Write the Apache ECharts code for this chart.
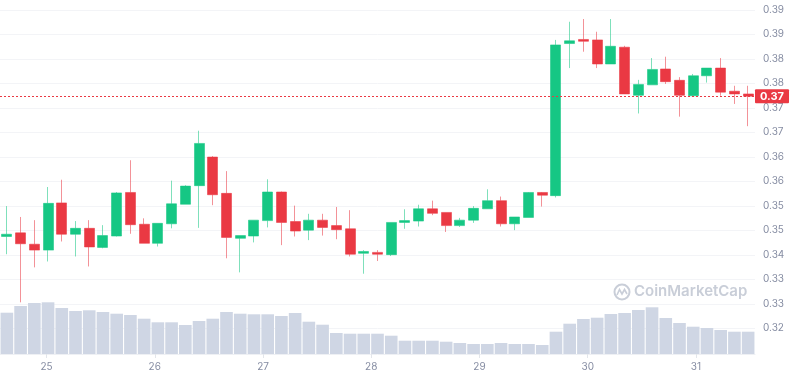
<!DOCTYPE html>
<html>
<head>
<meta charset="utf-8">
<script src="https://cdn.jsdelivr.net/npm/echarts@6/dist/echarts.min.js"></script>
<style>html,body{margin:0;padding:0;background:#fff}#c{width:795px;height:377px}</style>
</head>
<body>
<div id="c"></div>
<script>
// 3-hour candles (category labels)
const times = [
  '10-24 15:00','10-24 18:00','10-24 21:00',
  '10-25 00:00','10-25 03:00','10-25 06:00','10-25 09:00','10-25 12:00','10-25 15:00','10-25 18:00','10-25 21:00',
  '10-26 00:00','10-26 03:00','10-26 06:00','10-26 09:00','10-26 12:00','10-26 15:00','10-26 18:00','10-26 21:00',
  '10-27 00:00','10-27 03:00','10-27 06:00','10-27 09:00','10-27 12:00','10-27 15:00','10-27 18:00','10-27 21:00',
  '10-28 00:00','10-28 03:00','10-28 06:00','10-28 09:00','10-28 12:00','10-28 15:00','10-28 18:00','10-28 21:00',
  '10-29 00:00','10-29 03:00','10-29 06:00','10-29 09:00','10-29 12:00','10-29 15:00','10-29 18:00','10-29 21:00',
  '10-30 00:00','10-30 03:00','10-30 06:00','10-30 09:00','10-30 12:00','10-30 15:00','10-30 18:00','10-30 21:00',
  '10-31 00:00','10-31 03:00','10-31 06:00','10-31 09:00'
];
const opens = [
  0.3438,0.3446,0.3421,0.3408,0.3512,0.3443,0.3456,0.3414,0.3439,0.3535,
  0.3465,0.3423,0.3466,0.3509,0.3550,0.3613,0.3533,0.3434,0.3439,0.3473,
  0.3536,0.3471,0.3452,0.3474,0.3462,0.3455,0.3401,0.3403,0.3398,0.3469,
  0.3472,0.3499,0.3491,0.3462,0.3474,0.3499,0.3517,0.3466,0.3480,0.3535,
  0.3528,0.3863,0.3872,0.3871,0.3818,0.3855,0.3749,0.3772,0.3807,0.3782,
  0.3748,0.3792,0.3809,0.3758,0.3752
];
const closes = [
  0.3443,0.3422,0.3408,0.3511,0.3443,0.3456,0.3415,0.3440,0.3534,0.3464,
  0.3423,0.3467,0.3510,0.3549,0.3643,0.3530,0.3436,0.3440,0.3474,0.3536,
  0.3469,0.3450,0.3474,0.3458,0.3453,0.3399,0.3405,0.3399,0.3469,0.3473,
  0.3499,0.3489,0.3462,0.3474,0.3500,0.3517,0.3466,0.3481,0.3535,0.3529,
  0.3860,0.3869,0.3868,0.3818,0.3857,0.3752,0.3773,0.3806,0.3779,0.3749,
  0.3792,0.3809,0.3756,0.3752,0.3747
];
const lows = [
  0.3399,0.3293,0.3370,0.3383,0.3427,0.3394,0.3372,0.3412,0.3438,0.3444,
  0.3423,0.3416,0.3456,0.3509,0.3457,0.3507,0.3390,0.3359,0.3425,0.3458,
  0.3419,0.3438,0.3430,0.3440,0.3432,0.3394,0.3356,0.3384,0.3395,0.3455,
  0.3460,0.3485,0.3448,0.3459,0.3468,0.3499,0.3460,0.3452,0.3480,0.3504,
  0.3524,0.3809,0.3845,0.3809,0.3818,0.3752,0.3709,0.3772,0.3774,0.3702,
  0.3746,0.3777,0.3748,0.3730,0.3681
];
const highs = [
  0.3505,0.3481,0.3474,0.3547,0.3563,0.3472,0.3474,0.3463,0.3536,0.3606,
  0.3478,0.3467,0.3561,0.3551,0.3671,0.3615,0.3582,0.3440,0.3474,0.3564,
  0.3537,0.3506,0.3488,0.3488,0.3503,0.3496,0.3408,0.3408,0.3469,0.3498,
  0.3508,0.3517,0.3491,0.3479,0.3505,0.3542,0.3526,0.3481,0.3536,0.3536,
  0.3871,0.3911,0.3917,0.3889,0.3917,0.3858,0.3783,0.3831,0.3834,0.3789,
  0.3796,0.3809,0.3831,0.3770,0.3770
];
// volume (millions)
const volumes = [
  41.3,48,51,51.7,46,43,43.7,42,40.3,39,
  35.3,31.7,31.7,29,33,35.3,42,40.3,39.7,39.7,
  38,41,32.3,29.3,21,20.3,20.3,20.3,18.3,13.3,
  13.3,13.3,12.3,11,10,10,11,10,10,9,
  22.3,30.3,35,36.3,40,41,44,46.7,36,31,
  27.3,26,24,22.3,22.3
];
const yTickLabels = ['0.32','0.33','0.33','0.34','0.35','0.35','0.36','0.36','0.37','0.37','0.38','0.38','0.39','0.39'];
const yMin = 0.32358, yStep = 0.005393;
const yMax = Math.round((yMin + (yTickLabels.length - 1) * yStep) * 1e6) / 1e6;
const dayAxisRange = ['2023-10-24 13:41', '2023-10-31 13:05'];

const ohlc = opens.map((o, i) => [o, closes[i], lows[i], highs[i]]);
const lastPrice = closes[closes.length - 1];

const GREEN = '#16c784', RED = '#ea3943', AXIS_TXT = '#858ca2';

const chart = echarts.init(document.getElementById('c'), null, {renderer: 'canvas'});
chart.setOption({
  animation: false,
  backgroundColor: '#ffffff',
  grid: [
    {left: 0, right: 40, top: 10, bottom: 48.7},
    {left: 0, right: 40, top: 294, bottom: 23}
  ],
  xAxis: [
    {type: 'category', gridIndex: 0, data: times, show: false},
    {type: 'category', gridIndex: 1, data: times, show: false},
    {
      type: 'time', gridIndex: 1, position: 'bottom',
      min: dayAxisRange[0], max: dayAxisRange[1],
      minInterval: 86400000, maxInterval: 86400000,
      axisLine: {show: true, lineStyle: {color: '#eef0f4', width: 1}},
      axisTick: {show: true, length: 4, lineStyle: {color: '#e3e6eb'}},
      splitLine: {show: false},
      axisLabel: {formatter: '{d}', color: AXIS_TXT, fontSize: 10, margin: 8, fontFamily: 'Inter'}
    }
  ],
  yAxis: [
    {
      type: 'value', gridIndex: 0, position: 'right',
      min: yMin, max: yMax, interval: yStep,
      axisLine: {show: false}, axisTick: {show: false},
      splitLine: {show: true, lineStyle: {color: '#f3f4f7', width: 1}},
      axisLabel: {
        color: AXIS_TXT, fontSize: 10, fontFamily: 'Inter', margin: 8,
        padding: [0, 0, 5, 0],
        formatter: v => yTickLabels[Math.round((v - yMin) / yStep)] || ''
      }
    },
    {type: 'value', gridIndex: 1, min: 0, max: 60, show: false}
  ],
  graphic: [{
    type: 'group', left: 612, top: 282, silent: true,
    children: [
      {type: 'circle', shape: {cx: 9, cy: 9, r: 7.5}, style: {fill: 'none', stroke: '#c9ced8', lineWidth: 2}},
      {type: 'polyline', shape: {points: [[4, 12], [6.5, 6.5], [9, 11], [11.5, 6.5], [14, 11]]}, style: {stroke: '#c9ced8', fill: 'none', lineWidth: 1.6}},
      {type: 'text', x: 21, y: 1, style: {text: 'CoinMarketCap', font: '600 15px Inter', fill: '#c9ced8'}}
    ]
  }],
  series: [
    {
      type: 'bar', xAxisIndex: 1, yAxisIndex: 1, data: volumes,
      barWidth: '92%', silent: true,
      itemStyle: {color: '#cfd6e4'}
    },
    {
      type: 'candlestick', xAxisIndex: 0, yAxisIndex: 0, data: ohlc,
      barWidth: 10.5,
      itemStyle: {
        color: GREEN, color0: RED,
        borderColor: 'rgba(22,199,132,0.55)', borderColor0: 'rgba(234,57,67,0.55)',
        borderWidth: 1
      }
    },
    {
      type: 'line', name: 'price', xAxisIndex: 0, yAxisIndex: 0, data: [],
      silent: true, symbol: 'none', z: 5, color: RED,
      markLine: {
        silent: true, symbol: ['none', 'none'], animation: false,
        precision: 4,
        data: [{yAxis: lastPrice, lineStyle: {color: RED, type: [2, 2], width: 1}}],
        lineStyle: {color: RED, type: [2, 2], width: 1},
        label: {
          show: true, position: 'end', distance: 0,
          formatter: lastPrice.toFixed(2),
          color: '#ffffff', backgroundColor: RED,
          fontSize: 11, fontWeight: 'bold', fontFamily: 'Inter',
          padding: [2, 5, 1, 5], borderRadius: 1
        },
        emphasis: {disabled: true}
      }
    }
  ]
});
</script>
</body>
</html>
